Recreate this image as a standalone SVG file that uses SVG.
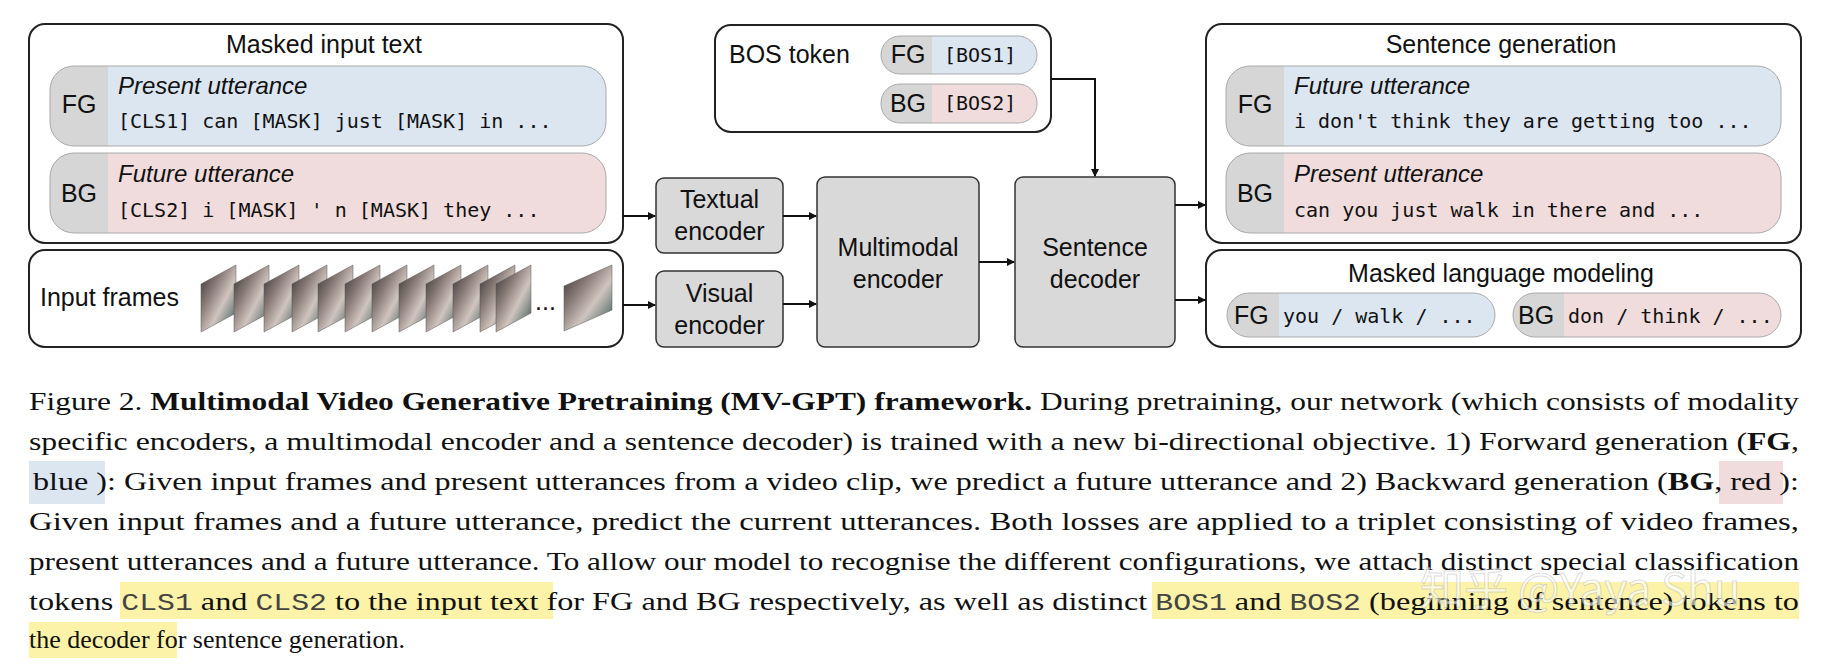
<svg xmlns="http://www.w3.org/2000/svg" width="1826" height="670" viewBox="0 0 1826 670">
<style>
.box{fill:#fff;stroke:#222;stroke-width:2}
.enc{fill:#d9d9d9;stroke:#333;stroke-width:1.5}
.sans{font-family:"Liberation Sans",Arial,sans-serif;fill:#111}
.t{font-size:25px}
.it{font-size:24px;font-style:italic}
.mono{font-family:"DejaVu Sans Mono","Liberation Mono",monospace;font-size:20px;fill:#111}
.lab{font-size:25px}
.cap{font-family:"Liberation Serif","Times New Roman",serif;font-size:26px;fill:#111}
.cm{font-family:"Liberation Mono",monospace;font-size:24px;fill:#444}
.conn{fill:none;stroke:#111;stroke-width:2;marker-end:url(#ah)}
.pillbl{fill:#dce6f1}
.pillrd{fill:#f0dcdc}
.gray{fill:#d6d6d6}
.po{fill:none;stroke:#aaa;stroke-width:1}
.fr{fill:url(#fg);stroke:#555;stroke-width:0.5}
</style>
<defs>
<marker id="ah" markerWidth="8" markerHeight="8" refX="7" refY="4" orient="auto" markerUnits="userSpaceOnUse"><path d="M0,0 L8,4 L0,8 z" fill="#111"/></marker>
<linearGradient id="fg" x1="0" y1="0" x2="1" y2="1"><stop offset="0" stop-color="#2e2e2e"/><stop offset="0.35" stop-color="#8a7c78"/><stop offset="0.6" stop-color="#d0c4bf"/><stop offset="0.8" stop-color="#7d8a86"/><stop offset="1" stop-color="#3a3a3a"/></linearGradient>
<clipPath id="c1"><rect x="50" y="66" width="556" height="80" rx="24"/></clipPath>
<clipPath id="c2"><rect x="50" y="153" width="556" height="80" rx="24"/></clipPath>
<clipPath id="c3"><rect x="1226" y="66" width="555" height="80" rx="24"/></clipPath>
<clipPath id="c4"><rect x="1226" y="153" width="555" height="80" rx="24"/></clipPath>
<clipPath id="c5"><rect x="881" y="36" width="156" height="38" rx="19"/></clipPath>
<clipPath id="c6"><rect x="881" y="84" width="156" height="39" rx="19"/></clipPath>
<clipPath id="c7"><rect x="1227" y="293" width="268" height="44" rx="22"/></clipPath>
<clipPath id="c8"><rect x="1513" y="293" width="268" height="44" rx="22"/></clipPath>
</defs>

<g id="masked-input">
<rect class="box" x="29" y="24" width="594" height="219" rx="16"/>
<text class="sans t" x="324" y="53" text-anchor="middle">Masked input text</text>
<g clip-path="url(#c1)"><rect class="pillbl" x="50" y="66" width="556" height="80"/><rect class="gray" x="50" y="66" width="58" height="80"/></g>
<rect class="po" x="50" y="66" width="556" height="80" rx="24"/>
<text class="sans lab" x="79" y="113" text-anchor="middle">FG</text>
<text class="sans it" x="118" y="94">Present utterance</text>
<text class="mono" x="118" y="128">[CLS1] can [MASK] just [MASK] in ...</text>
<g clip-path="url(#c2)"><rect class="pillrd" x="50" y="153" width="556" height="80"/><rect class="gray" x="50" y="153" width="58" height="80"/></g>
<rect class="po" x="50" y="153" width="556" height="80" rx="24"/>
<text class="sans lab" x="79" y="202" text-anchor="middle">BG</text>
<text class="sans it" x="118" y="182">Future utterance</text>
<text class="mono" x="118" y="217">[CLS2] i [MASK] ' n [MASK] they ...</text>
</g>

<g id="input-frames">
<rect class="box" x="29" y="250" width="594" height="97" rx="16"/>
<text class="sans t" x="40" y="306">Input frames</text>
<polygon class="fr" points="201,284 236,265 236,313 201,332"/>
<polygon class="fr" points="234,284 269,265 269,313 234,332"/>
<polygon class="fr" points="264,284 299,265 299,313 264,332"/>
<polygon class="fr" points="292,284 327,265 327,313 292,332"/>
<polygon class="fr" points="318,284 353,265 353,313 318,332"/>
<polygon class="fr" points="345,284 380,265 380,313 345,332"/>
<polygon class="fr" points="372,284 407,265 407,313 372,332"/>
<polygon class="fr" points="399,284 434,265 434,313 399,332"/>
<polygon class="fr" points="426,284 461,265 461,313 426,332"/>
<polygon class="fr" points="453,284 488,265 488,313 453,332"/>
<polygon class="fr" points="480,284 515,265 515,313 480,332"/>
<polygon class="fr" points="496,284 531,265 531,313 496,332"/>
<text class="sans t" x="535" y="310">...</text>
<polygon class="fr" points="564,286 612,265 612,310 564,331"/>
</g>

<g id="textual-encoder"><rect class="enc" x="656" y="178" width="127" height="75" rx="8"/>
<text class="sans t" x="719.5" y="208" text-anchor="middle">Textual</text><text class="sans t" x="719.5" y="240" text-anchor="middle">encoder</text></g>
<g id="visual-encoder"><rect class="enc" x="656" y="271" width="127" height="76" rx="8"/>
<text class="sans t" x="719.5" y="302" text-anchor="middle">Visual</text><text class="sans t" x="719.5" y="334" text-anchor="middle">encoder</text></g>
<g id="multimodal-encoder"><rect class="enc" x="817" y="177" width="162" height="170" rx="8"/>
<text class="sans t" x="898" y="256" text-anchor="middle">Multimodal</text><text class="sans t" x="898" y="288" text-anchor="middle">encoder</text></g>
<g id="sentence-decoder"><rect class="enc" x="1015" y="177" width="160" height="170" rx="8"/>
<text class="sans t" x="1095" y="256" text-anchor="middle">Sentence</text><text class="sans t" x="1095" y="288" text-anchor="middle">decoder</text></g>

<g id="bos-token">
<rect class="box" x="715" y="25" width="336" height="107" rx="16"/>
<text class="sans t" x="729" y="63">BOS token</text>
<g clip-path="url(#c5)"><rect class="pillbl" x="881" y="36" width="156" height="38"/><rect class="gray" x="881" y="36" width="51" height="38"/></g>
<rect class="po" x="881" y="36" width="156" height="38" rx="19"/>
<text class="sans lab" x="908" y="63" text-anchor="middle">FG</text>
<text class="mono" x="944" y="62">[BOS1]</text>
<g clip-path="url(#c6)"><rect class="pillrd" x="881" y="84" width="156" height="39"/><rect class="gray" x="881" y="84" width="51" height="39"/></g>
<rect class="po" x="881" y="84" width="156" height="39" rx="19"/>
<text class="sans lab" x="908" y="112" text-anchor="middle">BG</text>
<text class="mono" x="944" y="110">[BOS2]</text>
</g>

<g id="sentence-generation">
<rect class="box" x="1206" y="24" width="595" height="219" rx="16"/>
<text class="sans t" x="1501" y="53" text-anchor="middle">Sentence generation</text>
<g clip-path="url(#c3)"><rect class="pillbl" x="1226" y="66" width="555" height="80"/><rect class="gray" x="1226" y="66" width="58" height="80"/></g>
<rect class="po" x="1226" y="66" width="555" height="80" rx="24"/>
<text class="sans lab" x="1255" y="113" text-anchor="middle">FG</text>
<text class="sans it" x="1294" y="94">Future utterance</text>
<text class="mono" x="1294" y="128">i don't think they are getting too ...</text>
<g clip-path="url(#c4)"><rect class="pillrd" x="1226" y="153" width="555" height="80"/><rect class="gray" x="1226" y="153" width="58" height="80"/></g>
<rect class="po" x="1226" y="153" width="555" height="80" rx="24"/>
<text class="sans lab" x="1255" y="202" text-anchor="middle">BG</text>
<text class="sans it" x="1294" y="182">Present utterance</text>
<text class="mono" x="1294" y="217">can you just walk in there and ...</text>
</g>

<g id="masked-lm">
<rect class="box" x="1206" y="250" width="595" height="97" rx="16"/>
<text class="sans t" x="1501" y="282" text-anchor="middle">Masked language modeling</text>
<g clip-path="url(#c7)"><rect class="pillbl" x="1227" y="293" width="268" height="44"/><rect class="gray" x="1227" y="293" width="52" height="44"/></g>
<rect class="po" x="1227" y="293" width="268" height="44" rx="22"/>
<text class="sans lab" x="1234" y="324">FG</text>
<text class="mono" x="1283" y="323">you / walk / ...</text>
<g clip-path="url(#c8)"><rect class="pillrd" x="1513" y="293" width="268" height="44"/><rect class="gray" x="1513" y="293" width="51" height="44"/></g>
<rect class="po" x="1513" y="293" width="268" height="44" rx="22"/>
<text class="sans lab" x="1518" y="324">BG</text>
<text class="mono" x="1568" y="323">don / think / ...</text>
</g>

<g id="connectors">
<path class="conn" d="M623,216 H655"/>
<path class="conn" d="M623,305 H655"/>
<path class="conn" d="M783,216 H816"/>
<path class="conn" d="M783,304 H816"/>
<path class="conn" d="M979,262 H1014"/>
<path class="conn" d="M1051,79 H1095 V176"/>
<path class="conn" d="M1175,205 H1205"/>
<path class="conn" d="M1175,300 H1205"/>
</g>

<g id="caption">
<rect x="29" y="461" width="76" height="43" fill="#dce6f1"/>
<rect x="1719" y="461" width="64" height="43" fill="#f0dcdc"/>
<rect x="120" y="582" width="433" height="37" fill="#fcf3a8"/>
<rect x="1152" y="582" width="647" height="37" fill="#fcf3a8"/>
<rect x="29" y="622" width="148" height="36" fill="#fcf3a8"/>
<text class="cap" x="29" y="410" textLength="1770" lengthAdjust="spacingAndGlyphs">Figure 2. <tspan font-weight="bold">Multimodal Video Generative Pretraining (MV-GPT) framework.</tspan> During pretraining, our network (which consists of modality</text>
<text class="cap" x="29" y="450" textLength="1770" lengthAdjust="spacingAndGlyphs">specific encoders, a multimodal encoder and a sentence decoder) is trained with a new bi-directional objective.  1) Forward generation (<tspan font-weight="bold">FG</tspan>,</text>
<text class="cap" x="33" y="490" textLength="1766" lengthAdjust="spacingAndGlyphs">blue ): Given input frames and present utterances from a video clip, we predict a future utterance and 2) Backward generation (<tspan font-weight="bold">BG</tspan>,  red ):</text>
<text class="cap" x="29" y="530" textLength="1770" lengthAdjust="spacingAndGlyphs">Given input frames and a future utterance, predict the current utterances.  Both losses are applied to a triplet consisting of video frames,</text>
<text class="cap" x="29" y="570" textLength="1770" lengthAdjust="spacingAndGlyphs">present utterances and a future utterance. To allow our model to recognise the different configurations, we attach distinct special classification</text>
<text class="cap" x="29" y="610" textLength="1770" lengthAdjust="spacingAndGlyphs">tokens <tspan class="cm">CLS1</tspan> and <tspan class="cm">CLS2</tspan> to the input text for FG and BG respectively, as well as distinct <tspan class="cm">BOS1</tspan> and <tspan class="cm">BOS2</tspan> (beginning of sentence) tokens to</text>
<text class="cap" x="29" y="648">the decoder for sentence generation.</text>
<text x="1420" y="605" font-family="Noto Sans CJK SC,sans-serif" font-size="44" fill="#ffffff" fill-opacity="0.6" stroke="#999" stroke-opacity="0.35">知乎 @Yaya Shu</text>
</g>
</svg>
